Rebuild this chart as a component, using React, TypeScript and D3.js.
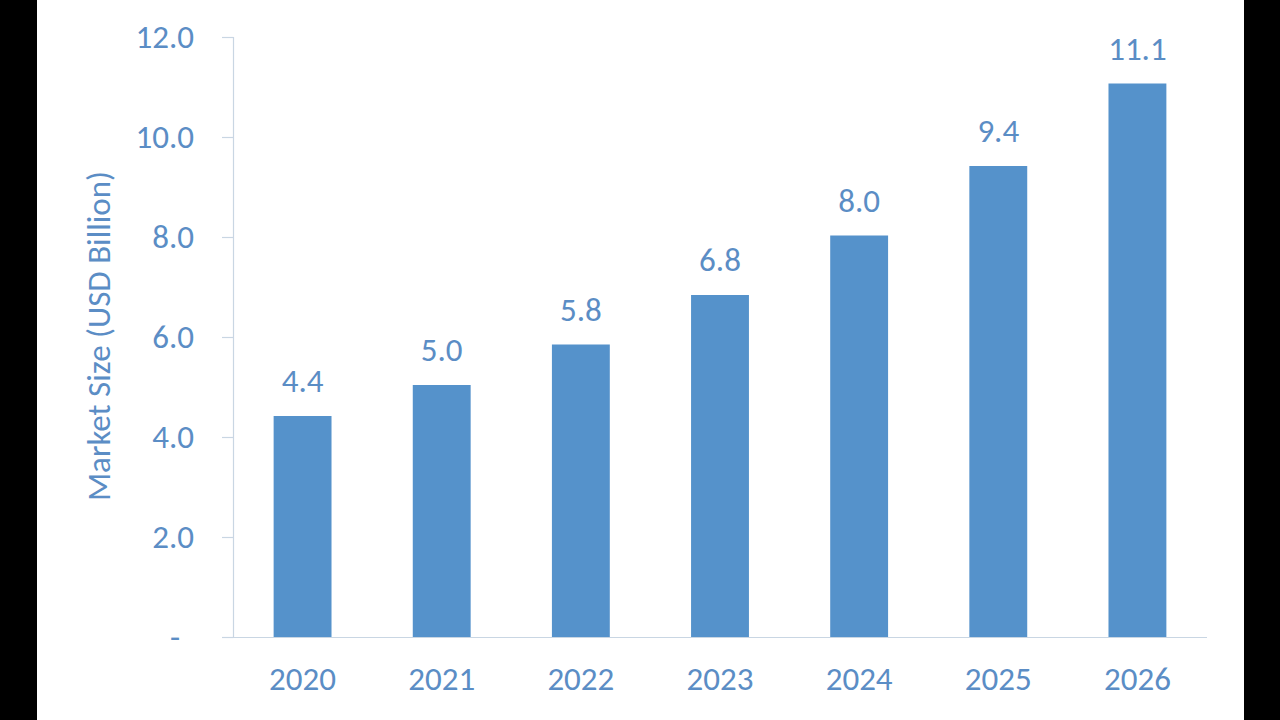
import React from "react";
import * as d3 from "d3";

const years = ["2020", "2021", "2022", "2023", "2024", "2025", "2026"];
const marketSize = [4.42, 5.04, 5.85, 6.84, 8.03, 9.42, 11.07];
const yTicks = [0, 2, 4, 6, 8, 10, 12];
const yTitle = "Market Size (USD Billion)";

const W = 1280;
const H = 720;
const FONT = "Calibri, Carlito, Lato, 'Open Sans', sans-serif";
const TEXT = "#5B8DC5";
const BAR = "#5592CB";
const AXIS = "#C9D6E3";

export default function App() {
  const x = d3.scaleBand<string>().domain(years).range([233, 1207]).paddingInner(0.584).paddingOuter(0.292);
  const y = d3.scaleLinear().domain([0, 12]).range([637, 37]);
  const fmt = d3.format(".1f");

  return (
    <div style={{ position: "fixed", left: 0, top: 0, width: W, height: H }}>
      <svg width={W} height={H} style={{ display: "block" }}>
        <rect x={0} y={0} width={W} height={H} fill="#fff" />
        <rect x={0} y={0} width={37} height={H} fill="#000" />
        <rect x={1244} y={0} width={W - 1244} height={H} fill="#000" />
        {/* y axis */}
        <line x1={233.5} x2={233.5} y1={y(12)} y2={y(0)} stroke={AXIS} strokeWidth={1.2} />
        {yTicks.map((t) => (
          <g key={t}>
            <line x1={222} x2={233.5} y1={y(t) + 0.5} y2={y(t) + 0.5} stroke={AXIS} strokeWidth={1.2} />
            <text
              x={t === 0 ? 180 : 194}
              y={y(t)}
              dy="0.33em"
              textAnchor="end"
              fill={TEXT}
              fontFamily={FONT}
              fontSize={33}
            >
              {t === 0 ? "-" : fmt(t)}
            </text>
          </g>
        ))}
        {/* bars */}
        {years.map((yr, i) => (
          <g key={yr}>
            <rect
              x={x(yr)}
              y={y(marketSize[i])}
              width={x.bandwidth()}
              height={y(0) - y(marketSize[i])}
              fill={BAR}
            />
            <text
              x={(x(yr) as number) + x.bandwidth() / 2}
              y={y(marketSize[i]) - 24}
              textAnchor="middle"
              fill={TEXT}
              fontFamily={FONT}
              fontSize={33}
            >
              {fmt(marketSize[i])}
            </text>
            <text
              x={(x(yr) as number) + x.bandwidth() / 2}
              y={690}
              textAnchor="middle"
              fill={TEXT}
              fontFamily={FONT}
              fontSize={33}
            >
              {yr}
            </text>
          </g>
        ))}
        {/* x axis */}
        <line x1={222} x2={1207} y1={y(0) + 0.5} y2={y(0) + 0.5} stroke={AXIS} strokeWidth={1.2} />
        {/* y title */}
        <text
          transform={`translate(110, 336) rotate(-90)`}
          textAnchor="middle"
          fill={TEXT}
          fontFamily={FONT}
          fontSize={33}
        >
          {yTitle}
        </text>
      </svg>
    </div>
  );
}
